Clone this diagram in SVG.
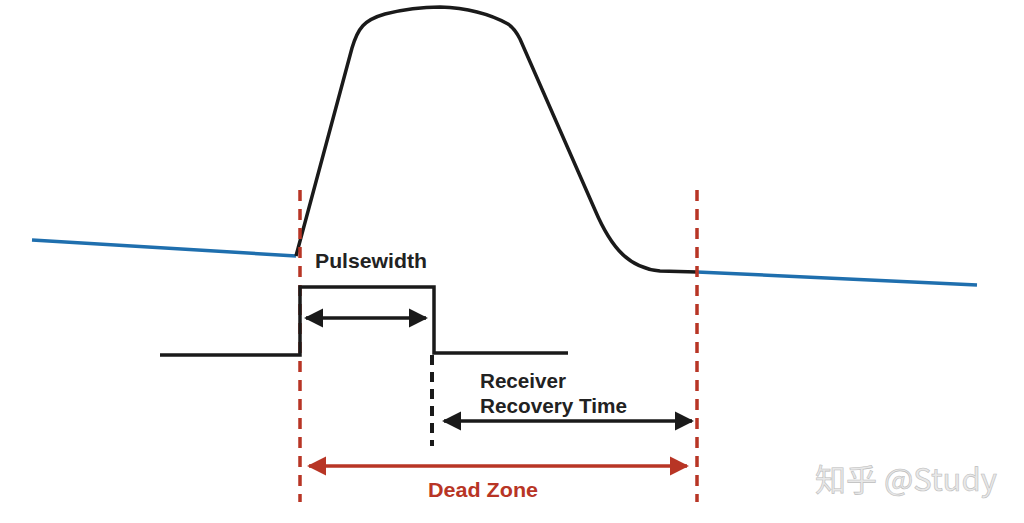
<svg xmlns="http://www.w3.org/2000/svg" width="1024" height="523" viewBox="0 0 1024 523">
<defs>
<style>
.blk{fill:none;stroke:#1a1a1a;stroke-width:3.5;stroke-linejoin:miter}
.blue{fill:none;stroke:#1f6fae;stroke-width:3.5}
.rdash{fill:none;stroke:#b83525;stroke-width:3.5;stroke-dasharray:11 8}
.kdash{fill:none;stroke:#1a1a1a;stroke-width:4;stroke-dasharray:10 7}
.lbl{font-family:"Liberation Sans",Arial,sans-serif;font-weight:bold;font-size:21px;fill:#222}
.red{font-family:"Liberation Sans",Arial,sans-serif;font-weight:bold;font-size:21px;fill:#b83525}
</style>
<marker id="ak" viewBox="0 0 10 10" refX="9" refY="5" markerWidth="5.5" markerHeight="5.5" orient="auto-start-reverse"><path d="M0,0 L10,5 L0,10 z" fill="#1a1a1a"/></marker>
<marker id="ar" viewBox="0 0 10 10" refX="9" refY="5" markerWidth="5.5" markerHeight="5.5" orient="auto-start-reverse"><path d="M0,0 L10,5 L0,10 z" fill="#b83525"/></marker>
</defs>
<g id="baseline">
<path class="blue" d="M32,240 L296,256"/>
<path class="blue" d="M697,272 L977,285"/>
</g>
<g id="pulse-curve">
<path class="blk" d="M296,256 L352,48 C358,28 364,20 385,14 C405,9 420,7 440,7 C468,8 490,14 508,24 C514,28 517,33 520,39 L595,210 C612,250 630,268 660,271 L697,272"/>
</g>
<g id="markers">
<path class="rdash" d="M300,190 V502"/>
<path class="rdash" d="M697,190 V502"/>
<path class="kdash" d="M432,355 V446"/>
</g>
<g id="pulse">
<path class="blk" d="M160,355 H300 V287 H434 V353 H568"/>
</g>
<g id="connectors">
<path class="blk" d="M306,318 H426" marker-start="url(#ak)" marker-end="url(#ak)"/>
<path class="blk" d="M444,421 H692" marker-start="url(#ak)" marker-end="url(#ak)"/>
<path fill="none" stroke="#b83525" stroke-width="3.5" d="M309,466 H687" marker-start="url(#ar)" marker-end="url(#ar)"/>
</g>
<g id="labels">
<text class="lbl" x="315" y="268" textLength="112" lengthAdjust="spacingAndGlyphs">Pulsewidth</text>
<text class="lbl" x="480" y="388" textLength="86" lengthAdjust="spacingAndGlyphs">Receiver</text>
<text class="lbl" x="480" y="413" textLength="147" lengthAdjust="spacingAndGlyphs">Recovery Time</text>
<text class="red" x="428" y="497" textLength="110" lengthAdjust="spacingAndGlyphs">Dead Zone</text>
</g>
<text x="815" y="491" font-family="Noto Sans CJK SC, sans-serif" font-size="31" fill="#e8e8e8" stroke="#bdbdbd" stroke-width="0.6">知乎 @Study</text>
</svg>
